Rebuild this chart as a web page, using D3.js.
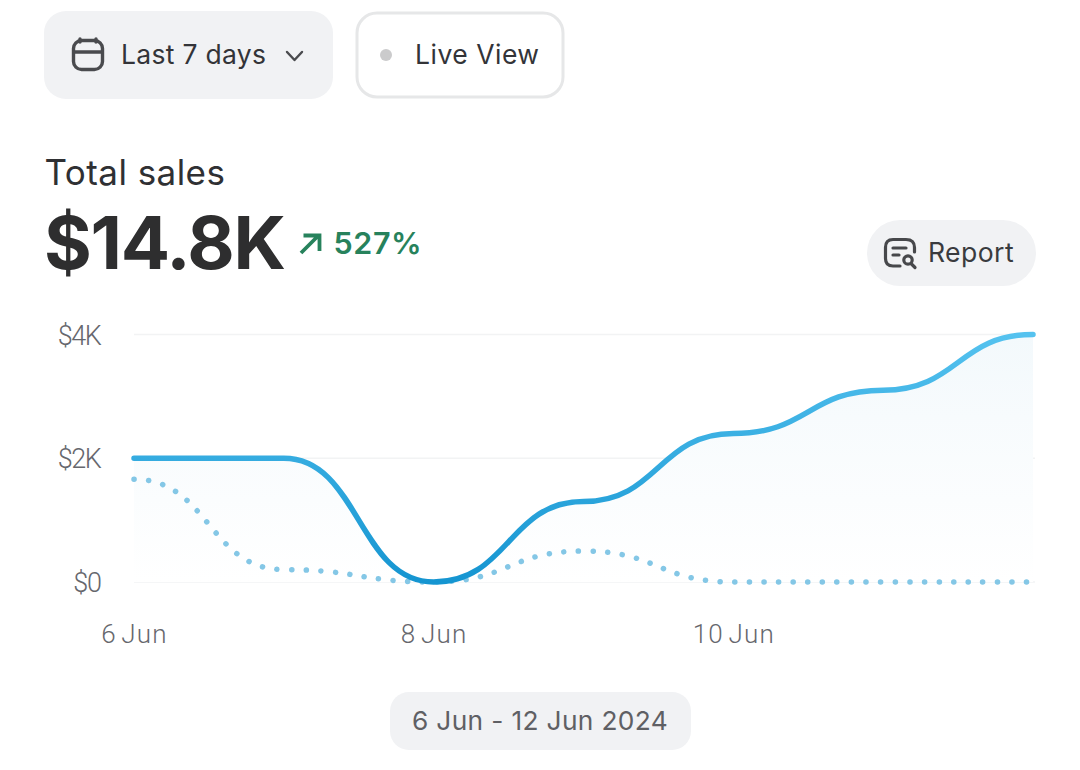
<!DOCTYPE html>
<html><head><meta charset="utf-8">
<script src="https://cdn.jsdelivr.net/npm/d3@7"></script>
<style>html,body{margin:0;padding:0;background:#fff}svg{display:block}text{font-family:Inter,sans-serif}</style>
</head><body><svg id="c" width="1080" height="770"></svg>
<script>
const days = [6,7,8,9,10,11,12];
const currentSales = [2000,2000,0,1300,2400,3100,4000];
const previousSales = [1660,200,0,500,0,0,0];
const yTicks = [0,2000,4000];
const yTickLabels = ["$0","$2K","$4K"];
const xTicks = [6,8,10];
const xTickLabels = ["6 Jun","8 Jun","10 Jun"];

const svg = d3.select("#c");
const x = d3.scaleLinear().domain([6,12]).range([134,1033]);
const y = d3.scaleLinear().domain([0,4000]).range([582,334.5]);

const defs = svg.append("defs");
const lg = defs.append("linearGradient").attr("id","lineG").attr("gradientUnits","userSpaceOnUse")
  .attr("x1",0).attr("x2",0).attr("y1",y(4000)).attr("y2",y(0));
lg.append("stop").attr("offset",0).attr("stop-color","#55c2ef");
lg.append("stop").attr("offset",1).attr("stop-color","#1595d1");
const ag = defs.append("linearGradient").attr("id","areaG").attr("gradientUnits","userSpaceOnUse")
  .attr("x1",0).attr("x2",0).attr("y1",y(4000)).attr("y2",y(0));
ag.append("stop").attr("offset",0).attr("stop-color","#f3f9fc");
ag.append("stop").attr("offset",1).attr("stop-color","#ffffff");

function pill(px,py,w,h,r,fill,stroke){
  return svg.append("rect").attr("x",px).attr("y",py).attr("width",w).attr("height",h).attr("rx",r)
    .attr("fill",fill).attr("stroke",stroke||"none").attr("stroke-width",stroke?3:0);
}
function label(t,px,py,size,fill,weight,anchor,ls){
  return svg.append("text").text(t).attr("x",px).attr("y",py).attr("font-size",size).attr("fill",fill)
    .attr("font-weight",weight||400).attr("text-anchor",anchor||"start").attr("letter-spacing",ls||0);
}

// top controls
pill(44,11,289,88,22,"#f1f2f4");
pill(357,13,206,84,20,"#fff","#e6e7e8");
const ic = svg.append("g").attr("fill","none").attr("stroke","#4a4b4e").attr("stroke-width",3.4).attr("stroke-linecap","round");
ic.append("rect").attr("x",73.5).attr("y",40.5).attr("width",29).attr("height",29).attr("rx",8);
ic.append("path").attr("d","M74 52H102M80 39V42M96 39V42");
svg.append("path").attr("d","M287 52l7.5 8l7.5-8").attr("fill","none").attr("stroke","#4a4b4e").attr("stroke-width",2.4).attr("stroke-linecap","round").attr("stroke-linejoin","round");
label("Last 7 days",121,64,26.5,"#333438",400,"start",0.3);
svg.append("circle").attr("cx",386).attr("cy",55).attr("r",6).attr("fill","#cbcbcc");
label("Live View",415,64,26.5,"#333438",400,"start",0.5);

// headline
label("Total sales",44.5,185,35,"#2f3033",400,"start",0.45);
label("$14.8K",44,269,73,"#2e2e2f",700,"start",-1.3);
svg.append("path").attr("d","M301 253L318 236M303.5 235.5H319.5V251").attr("fill","none").attr("stroke","#27825c").attr("stroke-width",3.8);
label("527%",333.5,254,30.5,"#27825c",600,"start",0.6);

// report
pill(867,220,169,66,33,"#f1f2f4");
const ri = svg.append("g").attr("fill","none").attr("stroke","#47484b").attr("stroke-width",3.2).attr("stroke-linecap","round");
ri.append("path").attr("d","M900 266H893Q885.5 266 885.5 258.5V247.5Q885.5 239.5 893 239.5H906Q914.5 239.5 914.5 247.5V252");
ri.append("path").attr("d","M893 248H906M893 255H899");
ri.append("circle").attr("cx",908).attr("cy",260).attr("r",4.2);
ri.append("path").attr("d","M911.5 264L915 267.5");
label("Report",928,262,26.6,"#3a3b3e",400,"start",0.4);

// grid
svg.append("g").selectAll("line").data(yTicks).join("line")
  .attr("x1",x(6)).attr("x2",x(12)+2).attr("y1",d=>y(d)).attr("y2",d=>y(d))
  .attr("stroke","#f2f3f4").attr("stroke-width",1.5);

// axes labels via d3 axes
const yAxis = svg.append("g").attr("transform","translate(100.5,0)")
  .call(d3.axisLeft(y).tickValues(yTicks).tickFormat((d,i)=>yTickLabels[i]).tickSize(0).tickPadding(0));
yAxis.select(".domain").remove();
yAxis.selectAll("text").style("font-family","Roboto,sans-serif").attr("font-size",27).attr("font-weight",300).attr("fill","#66676d").attr("letter-spacing",-1.4).attr("dy","0.36em");
const xAxis = svg.append("g").attr("transform","translate(0,624.5)")
  .call(d3.axisBottom(x).tickValues(xTicks).tickFormat((d,i)=>xTickLabels[i]).tickSize(0).tickPadding(0));
xAxis.select(".domain").remove();
xAxis.selectAll("text").style("font-family","Roboto,sans-serif").attr("font-size",26).attr("font-weight",300).attr("fill","#66676d").attr("dy","0.71em").attr("letter-spacing",1.2).attr("word-spacing",-3);

// series
const pts = days.map((d,i)=>({d,c:currentSales[i],p:previousSales[i]}));
svg.append("path").datum(pts).attr("fill","url(#areaG)")
  .attr("d",d3.area().x(d=>x(d.d)).y0(y(0)).y1(d=>y(d.c)).curve(d3.curveBumpX));
svg.append("path").datum(pts).attr("fill","none").attr("stroke","#84c7e6").attr("stroke-width",5.5)
  .attr("stroke-linecap","round").attr("stroke-dasharray","0.1 14.5")
  .attr("d",d3.line().x(d=>x(d.d)).y(d=>y(d.p)).curve(d3.curveBumpX));
svg.append("path").datum(pts).attr("fill","none").attr("stroke","url(#lineG)").attr("stroke-width",5.5)
  .attr("stroke-linecap","round")
  .attr("d",d3.line().x(d=>x(d.d)).y(d=>y(d.c)).curve(d3.curveBumpX));

// range
pill(390,692,301,58,19,"#f1f2f4");
label("6 Jun - 12 Jun 2024",540,730,26.3,"#5f6064",400,"middle",0.35);
</script></body></html>
